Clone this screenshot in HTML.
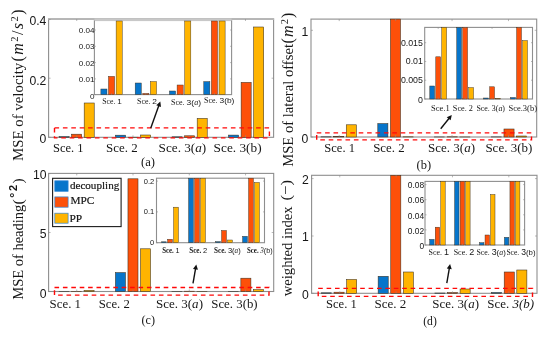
<!DOCTYPE html>
<html><head><meta charset="utf-8"><title>MSE comparison</title>
<style>html,body{margin:0;padding:0;background:#fff}svg{display:block}</style></head>
<body>
<svg width="550" height="337" viewBox="0 0 550 337">
<rect width="550" height="337" fill="#fff"/>
<rect x="48.6" y="19.0" width="225.00" height="118.30" fill="#fff" stroke="#8e8e8e" stroke-width="1.1"/>
<rect x="48.1" y="18.1" width="226.0" height="1.9" fill="#b6b6b6"/>
<rect x="59.07" y="136.60" width="10.04" height="0.70" fill="#0675cb" stroke="#3a3020" stroke-width="0.55"/>
<rect x="71.63" y="134.20" width="10.04" height="3.10" fill="#fd5009" stroke="#3a3020" stroke-width="0.55"/>
<rect x="84.18" y="103.00" width="10.04" height="34.30" fill="#ffb400" stroke="#3a3020" stroke-width="0.55"/>
<rect x="115.57" y="135.20" width="10.04" height="2.10" fill="#0675cb" stroke="#3a3020" stroke-width="0.55"/>
<rect x="128.13" y="137.20" width="10.04" height="0.10" fill="#fd5009" stroke="#3a3020" stroke-width="0.55"/>
<rect x="140.68" y="135.00" width="10.04" height="2.30" fill="#ffb400" stroke="#3a3020" stroke-width="0.55"/>
<rect x="172.07" y="136.80" width="10.04" height="0.50" fill="#0675cb" stroke="#3a3020" stroke-width="0.55"/>
<rect x="184.63" y="135.80" width="10.04" height="1.50" fill="#fd5009" stroke="#3a3020" stroke-width="0.55"/>
<rect x="197.18" y="118.40" width="10.04" height="18.90" fill="#ffb400" stroke="#3a3020" stroke-width="0.55"/>
<rect x="228.57" y="135.10" width="10.04" height="2.20" fill="#0675cb" stroke="#3a3020" stroke-width="0.55"/>
<rect x="241.13" y="82.40" width="10.04" height="54.90" fill="#fd5009" stroke="#3a3020" stroke-width="0.55"/>
<rect x="253.68" y="27.00" width="10.04" height="110.30" fill="#ffb400" stroke="#3a3020" stroke-width="0.55"/>
<line x1="76.73" y1="137.3" x2="76.73" y2="135.3" stroke="#8a8a8a" stroke-width="0.6"/>
<line x1="132.98" y1="137.3" x2="132.98" y2="135.3" stroke="#8a8a8a" stroke-width="0.6"/>
<line x1="189.23" y1="137.3" x2="189.23" y2="135.3" stroke="#8a8a8a" stroke-width="0.6"/>
<line x1="245.48" y1="137.3" x2="245.48" y2="135.3" stroke="#8a8a8a" stroke-width="0.6"/>
<line x1="76.73" y1="19.0" x2="76.73" y2="21.0" stroke="#8a8a8a" stroke-width="0.6"/>
<line x1="132.98" y1="19.0" x2="132.98" y2="21.0" stroke="#8a8a8a" stroke-width="0.6"/>
<line x1="189.23" y1="19.0" x2="189.23" y2="21.0" stroke="#8a8a8a" stroke-width="0.6"/>
<line x1="245.48" y1="19.0" x2="245.48" y2="21.0" stroke="#8a8a8a" stroke-width="0.6"/>
<line x1="48.6" y1="19.5" x2="50.6" y2="19.5" stroke="#8a8a8a" stroke-width="0.6"/>
<line x1="48.6" y1="78.2" x2="50.6" y2="78.2" stroke="#8a8a8a" stroke-width="0.6"/>
<line x1="48.6" y1="137.3" x2="50.6" y2="137.3" stroke="#8a8a8a" stroke-width="0.6"/>
<line x1="271.6" y1="78.2" x2="273.6" y2="78.2" stroke="#8a8a8a" stroke-width="0.6"/>
<rect x="94.4" y="20.5" width="137.20" height="74.10" fill="#fff" stroke="#8e8e8e" stroke-width="1.1"/>
<rect x="94.4" y="18.4" width="137.2" height="2.6" fill="#c8c8c8"/>
<rect x="100.88" y="89.00" width="6.10" height="5.60" fill="#0675cb" stroke="#3a3020" stroke-width="0.45"/>
<rect x="108.50" y="76.40" width="6.10" height="18.20" fill="#fd5009" stroke="#3a3020" stroke-width="0.45"/>
<rect x="116.12" y="21.00" width="6.10" height="73.60" fill="#ffb400" stroke="#3a3020" stroke-width="0.45"/>
<rect x="135.18" y="83.00" width="6.10" height="11.60" fill="#0675cb" stroke="#3a3020" stroke-width="0.45"/>
<rect x="142.80" y="93.40" width="6.10" height="1.20" fill="#fd5009" stroke="#3a3020" stroke-width="0.45"/>
<rect x="150.42" y="81.60" width="6.10" height="13.00" fill="#ffb400" stroke="#3a3020" stroke-width="0.45"/>
<rect x="169.48" y="91.00" width="6.10" height="3.60" fill="#0675cb" stroke="#3a3020" stroke-width="0.45"/>
<rect x="177.10" y="85.00" width="6.10" height="9.60" fill="#fd5009" stroke="#3a3020" stroke-width="0.45"/>
<rect x="184.72" y="21.00" width="6.10" height="73.60" fill="#ffb400" stroke="#3a3020" stroke-width="0.45"/>
<rect x="203.78" y="81.60" width="6.10" height="13.00" fill="#0675cb" stroke="#3a3020" stroke-width="0.45"/>
<rect x="211.40" y="21.00" width="6.10" height="73.60" fill="#fd5009" stroke="#3a3020" stroke-width="0.45"/>
<rect x="219.02" y="21.00" width="6.10" height="73.60" fill="#ffb400" stroke="#3a3020" stroke-width="0.45"/>
<line x1="111.55" y1="94.6" x2="111.55" y2="93.1" stroke="#8a8a8a" stroke-width="0.6"/>
<line x1="145.85" y1="94.6" x2="145.85" y2="93.1" stroke="#8a8a8a" stroke-width="0.6"/>
<line x1="180.15" y1="94.6" x2="180.15" y2="93.1" stroke="#8a8a8a" stroke-width="0.6"/>
<line x1="214.45" y1="94.6" x2="214.45" y2="93.1" stroke="#8a8a8a" stroke-width="0.6"/>
<line x1="94.4" y1="30" x2="95.9" y2="30" stroke="#8a8a8a" stroke-width="0.6"/>
<line x1="94.4" y1="46.3" x2="95.9" y2="46.3" stroke="#8a8a8a" stroke-width="0.6"/>
<line x1="94.4" y1="62.6" x2="95.9" y2="62.6" stroke="#8a8a8a" stroke-width="0.6"/>
<line x1="94.4" y1="78.9" x2="95.9" y2="78.9" stroke="#8a8a8a" stroke-width="0.6"/>
<line x1="94.4" y1="94.6" x2="95.9" y2="94.6" stroke="#8a8a8a" stroke-width="0.6"/>
<line x1="230.1" y1="30" x2="231.6" y2="30" stroke="#8a8a8a" stroke-width="0.6"/>
<line x1="230.1" y1="46.3" x2="231.6" y2="46.3" stroke="#8a8a8a" stroke-width="0.6"/>
<line x1="230.1" y1="62.6" x2="231.6" y2="62.6" stroke="#8a8a8a" stroke-width="0.6"/>
<line x1="230.1" y1="78.9" x2="231.6" y2="78.9" stroke="#8a8a8a" stroke-width="0.6"/>
<text x="94.6" y="32.9" font-size="8.1" text-anchor="end" font-family='"Liberation Sans", sans-serif' fill="#161616" >0.04</text>
<text x="94.6" y="49.199999999999996" font-size="8.1" text-anchor="end" font-family='"Liberation Sans", sans-serif' fill="#161616" >0.03</text>
<text x="94.6" y="65.7" font-size="8.1" text-anchor="end" font-family='"Liberation Sans", sans-serif' fill="#161616" >0.02</text>
<text x="94.6" y="82.10000000000001" font-size="8.1" text-anchor="end" font-family='"Liberation Sans", sans-serif' fill="#161616" >0.01</text>
<text x="94.6" y="98.5" font-size="8.1" text-anchor="end" font-family='"Liberation Sans", sans-serif' fill="#161616" >0</text>
<text x="102.3" y="103.6" font-size="7.6" textLength="19.6" lengthAdjust="spacingAndGlyphs" font-family='"Liberation Serif", serif' fill="#161616" >Sce. <tspan font-family="Liberation Sans, sans-serif" font-size="8">1</tspan></text>
<text x="137" y="103.6" font-size="7.6" textLength="20.0" lengthAdjust="spacingAndGlyphs" font-family='"Liberation Serif", serif' fill="#161616" >Sce. <tspan font-family="Liberation Sans, sans-serif" font-size="8">2</tspan></text>
<text x="171" y="104.8" font-size="7.6" textLength="30.0" lengthAdjust="spacingAndGlyphs" font-family='"Liberation Serif", serif' fill="#161616" >Sce. <tspan font-family="Liberation Sans, sans-serif" font-size="8">3(</tspan><tspan font-style="italic">a</tspan><tspan font-family="Liberation Sans, sans-serif" font-size="8">)</tspan></text>
<text x="204" y="103.4" font-size="7.6" textLength="30.4" lengthAdjust="spacingAndGlyphs" font-family='"Liberation Serif", serif' fill="#161616" >Sce. <tspan font-family="Liberation Sans, sans-serif" font-size="8">3(b)</tspan></text>
<rect x="54.5" y="127.9" width="214.90" height="10.00" fill="none" stroke="#ff0808" stroke-width="1.4" stroke-dasharray="4.6 3.8"/>
<line x1="150.7" y1="128.3" x2="159.29" y2="104.32" stroke="#111" stroke-width="1.4"/>
<polygon points="160.30,101.50 160.97,107.05 156.26,105.36" fill="#111"/>
<text x="46.4" y="24.9" font-size="12.2" text-anchor="end" font-family='"Liberation Sans", sans-serif' fill="#161616" >0.4</text>
<text x="46.4" y="84.7" font-size="12.2" text-anchor="end" font-family='"Liberation Sans", sans-serif' fill="#161616" >0.2</text>
<text x="46.4" y="143" font-size="12.2" text-anchor="end" font-family='"Liberation Sans", sans-serif' fill="#161616" >0</text>
<text x="53" y="151.7" font-size="13.2" textLength="30.6" lengthAdjust="spacingAndGlyphs" font-family='"Liberation Serif", serif' fill="#161616" >Sce. 1</text>
<text x="106" y="151.7" font-size="13.2" textLength="31.6" lengthAdjust="spacingAndGlyphs" font-family='"Liberation Serif", serif' fill="#161616" >Sce. 2</text>
<text x="158.6" y="151.7" font-size="13.2" textLength="47.7" lengthAdjust="spacingAndGlyphs" font-family='"Liberation Serif", serif' fill="#161616" >Sce. 3(<tspan font-style="italic">a</tspan>)</text>
<text x="213.6" y="151.7" font-size="13.2" textLength="48.0" lengthAdjust="spacingAndGlyphs" font-family='"Liberation Serif", serif' fill="#161616" >Sce. 3(b)</text>
<text x="141" y="166" font-size="13.2" textLength="14.0" lengthAdjust="spacingAndGlyphs" font-family='"Liberation Serif", serif' fill="#161616" >(a)</text>
<text transform="translate(23.3,161) rotate(-90)" font-size="15.6" text-anchor="start" textLength="98.2" lengthAdjust="spacingAndGlyphs" font-family='"Liberation Serif", serif' fill="#161616" >MSE of velocity</text>
<text transform="translate(23.3,61.6) rotate(-90)" font-size="16" textLength="52.2" lengthAdjust="spacing" font-family='"Liberation Serif", serif' fill="#161616">(<tspan font-style="italic">m</tspan><tspan font-size="10.5" dy="-5.5">2</tspan><tspan dy="5.5">/</tspan><tspan font-style="italic">s</tspan><tspan font-size="10.5" dy="-5.5">2</tspan><tspan dy="5.5">)</tspan></text>
<rect x="311.0" y="19.1" width="225.70" height="117.90" fill="#fff" stroke="#8e8e8e" stroke-width="1.1"/>
<rect x="321.02" y="136.80" width="10.09" height="0.20" fill="#0675cb" stroke="#3a3020" stroke-width="0.55"/>
<rect x="333.64" y="136.30" width="10.09" height="0.70" fill="#fd5009" stroke="#3a3020" stroke-width="0.55"/>
<rect x="346.26" y="124.80" width="10.09" height="12.20" fill="#ffb400" stroke="#3a3020" stroke-width="0.55"/>
<rect x="377.80" y="123.60" width="10.09" height="13.40" fill="#0675cb" stroke="#3a3020" stroke-width="0.55"/>
<rect x="390.42" y="19.10" width="10.09" height="117.90" fill="#fd5009" stroke="#3a3020" stroke-width="0.55"/>
<rect x="403.03" y="136.80" width="10.09" height="0.20" fill="#ffb400" stroke="#3a3020" stroke-width="0.55"/>
<rect x="434.57" y="136.95" width="10.09" height="0.05" fill="#0675cb" stroke="#3a3020" stroke-width="0.55"/>
<rect x="447.19" y="136.80" width="10.09" height="0.20" fill="#fd5009" stroke="#3a3020" stroke-width="0.55"/>
<rect x="459.81" y="136.95" width="10.09" height="0.05" fill="#ffb400" stroke="#3a3020" stroke-width="0.55"/>
<rect x="491.35" y="136.90" width="10.09" height="0.10" fill="#0675cb" stroke="#3a3020" stroke-width="0.55"/>
<rect x="503.97" y="129.00" width="10.09" height="8.00" fill="#fd5009" stroke="#3a3020" stroke-width="0.55"/>
<rect x="516.58" y="136.00" width="10.09" height="1.00" fill="#ffb400" stroke="#3a3020" stroke-width="0.55"/>
<line x1="339.21" y1="137.0" x2="339.21" y2="135.0" stroke="#8a8a8a" stroke-width="0.6"/>
<line x1="395.64" y1="137.0" x2="395.64" y2="135.0" stroke="#8a8a8a" stroke-width="0.6"/>
<line x1="452.06" y1="137.0" x2="452.06" y2="135.0" stroke="#8a8a8a" stroke-width="0.6"/>
<line x1="508.49" y1="137.0" x2="508.49" y2="135.0" stroke="#8a8a8a" stroke-width="0.6"/>
<line x1="339.21" y1="19.1" x2="339.21" y2="21.1" stroke="#8a8a8a" stroke-width="0.6"/>
<line x1="395.64" y1="19.1" x2="395.64" y2="21.1" stroke="#8a8a8a" stroke-width="0.6"/>
<line x1="452.06" y1="19.1" x2="452.06" y2="21.1" stroke="#8a8a8a" stroke-width="0.6"/>
<line x1="508.49" y1="19.1" x2="508.49" y2="21.1" stroke="#8a8a8a" stroke-width="0.6"/>
<line x1="311.0" y1="30.3" x2="313.0" y2="30.3" stroke="#8a8a8a" stroke-width="0.6"/>
<line x1="311.0" y1="137.0" x2="313.0" y2="137.0" stroke="#8a8a8a" stroke-width="0.6"/>
<line x1="534.7" y1="30.3" x2="536.7" y2="30.3" stroke="#8a8a8a" stroke-width="0.6"/>
<rect x="424.7" y="27.4" width="107.80" height="71.60" fill="#fff" stroke="#8e8e8e" stroke-width="1.1"/>
<rect x="429.79" y="86.00" width="4.79" height="13.00" fill="#0675cb" stroke="#3a3020" stroke-width="0.45"/>
<rect x="435.78" y="56.80" width="4.79" height="42.20" fill="#fd5009" stroke="#3a3020" stroke-width="0.45"/>
<rect x="441.77" y="27.40" width="4.79" height="71.60" fill="#ffb400" stroke="#3a3020" stroke-width="0.45"/>
<rect x="456.74" y="27.40" width="4.79" height="71.60" fill="#0675cb" stroke="#3a3020" stroke-width="0.45"/>
<rect x="462.73" y="27.40" width="4.79" height="71.60" fill="#fd5009" stroke="#3a3020" stroke-width="0.45"/>
<rect x="468.72" y="87.60" width="4.79" height="11.40" fill="#ffb400" stroke="#3a3020" stroke-width="0.45"/>
<rect x="483.69" y="98.00" width="4.79" height="1.00" fill="#0675cb" stroke="#3a3020" stroke-width="0.45"/>
<rect x="489.68" y="86.80" width="4.79" height="12.20" fill="#fd5009" stroke="#3a3020" stroke-width="0.45"/>
<rect x="495.67" y="98.60" width="4.79" height="0.40" fill="#ffb400" stroke="#3a3020" stroke-width="0.45"/>
<rect x="510.64" y="97.50" width="4.79" height="1.50" fill="#0675cb" stroke="#3a3020" stroke-width="0.45"/>
<rect x="516.63" y="27.40" width="4.79" height="71.60" fill="#fd5009" stroke="#3a3020" stroke-width="0.45"/>
<rect x="522.62" y="40.60" width="4.79" height="58.40" fill="#ffb400" stroke="#3a3020" stroke-width="0.45"/>
<line x1="438.18" y1="99.0" x2="438.18" y2="97.5" stroke="#8a8a8a" stroke-width="0.6"/>
<line x1="465.12" y1="99.0" x2="465.12" y2="97.5" stroke="#8a8a8a" stroke-width="0.6"/>
<line x1="492.07" y1="99.0" x2="492.07" y2="97.5" stroke="#8a8a8a" stroke-width="0.6"/>
<line x1="519.02" y1="99.0" x2="519.02" y2="97.5" stroke="#8a8a8a" stroke-width="0.6"/>
<line x1="438.18" y1="27.4" x2="438.18" y2="28.9" stroke="#8a8a8a" stroke-width="0.6"/>
<line x1="465.12" y1="27.4" x2="465.12" y2="28.9" stroke="#8a8a8a" stroke-width="0.6"/>
<line x1="492.07" y1="27.4" x2="492.07" y2="28.9" stroke="#8a8a8a" stroke-width="0.6"/>
<line x1="519.02" y1="27.4" x2="519.02" y2="28.9" stroke="#8a8a8a" stroke-width="0.6"/>
<line x1="424.7" y1="42.7" x2="426.2" y2="42.7" stroke="#8a8a8a" stroke-width="0.6"/>
<line x1="424.7" y1="61.5" x2="426.2" y2="61.5" stroke="#8a8a8a" stroke-width="0.6"/>
<line x1="424.7" y1="80.2" x2="426.2" y2="80.2" stroke="#8a8a8a" stroke-width="0.6"/>
<line x1="424.7" y1="99" x2="426.2" y2="99" stroke="#8a8a8a" stroke-width="0.6"/>
<line x1="531.0" y1="42.7" x2="532.5" y2="42.7" stroke="#8a8a8a" stroke-width="0.6"/>
<line x1="531.0" y1="61.5" x2="532.5" y2="61.5" stroke="#8a8a8a" stroke-width="0.6"/>
<line x1="531.0" y1="80.2" x2="532.5" y2="80.2" stroke="#8a8a8a" stroke-width="0.6"/>
<text x="422.9" y="45.5" font-size="8.8" text-anchor="end" font-family='"Liberation Sans", sans-serif' fill="#161616" >0.015</text>
<text x="422.9" y="64.3" font-size="8.8" text-anchor="end" font-family='"Liberation Sans", sans-serif' fill="#161616" >0.01</text>
<text x="422.9" y="83.1" font-size="8.8" text-anchor="end" font-family='"Liberation Sans", sans-serif' fill="#161616" >0.005</text>
<text x="422.9" y="102.69999999999999" font-size="8.8" text-anchor="end" font-family='"Liberation Sans", sans-serif' fill="#161616" >0</text>
<text x="431.1" y="110.7" font-size="8.5" textLength="18.7" lengthAdjust="spacingAndGlyphs" font-family='"Liberation Serif", serif' fill="#161616" >Sce.1</text>
<text x="452.8" y="110.7" font-size="8.5" textLength="20.2" lengthAdjust="spacingAndGlyphs" font-family='"Liberation Serif", serif' fill="#161616" >Sce. 2</text>
<text x="476.4" y="110.7" font-size="8.5" textLength="28.6" lengthAdjust="spacingAndGlyphs" font-family='"Liberation Serif", serif' fill="#161616" >Sce. 3(<tspan font-style="italic">a</tspan>)</text>
<text x="508.5" y="110.7" font-size="8.5" textLength="28.5" lengthAdjust="spacingAndGlyphs" font-family='"Liberation Serif", serif' fill="#161616" >Sce.3(b)</text>
<rect x="316.7" y="132.9" width="214.80" height="7.00" fill="none" stroke="#ff0808" stroke-width="1.4" stroke-dasharray="4.6 3.8"/>
<line x1="440.7" y1="128.8" x2="449.93" y2="117.24" stroke="#111" stroke-width="1.4"/>
<polygon points="451.80,114.90 450.63,120.37 446.73,117.25" fill="#111"/>
<text x="308.4" y="35.8" font-size="12.2" text-anchor="end" font-family='"Liberation Sans", sans-serif' fill="#161616" >1</text>
<text x="308.4" y="143" font-size="12.2" text-anchor="end" font-family='"Liberation Sans", sans-serif' fill="#161616" >0</text>
<text x="324.3" y="151.7" font-size="13.2" textLength="30.7" lengthAdjust="spacingAndGlyphs" font-family='"Liberation Serif", serif' fill="#161616" >Sce. 1</text>
<text x="373.2" y="151.7" font-size="13.2" textLength="31.5" lengthAdjust="spacingAndGlyphs" font-family='"Liberation Serif", serif' fill="#161616" >Sce. 2</text>
<text x="428" y="151.7" font-size="13.2" textLength="47.0" lengthAdjust="spacingAndGlyphs" font-family='"Liberation Serif", serif' fill="#161616" >Sce. 3(<tspan font-style="italic">a</tspan>)</text>
<text x="485.4" y="151.7" font-size="13.2" textLength="46.9" lengthAdjust="spacingAndGlyphs" font-family='"Liberation Serif", serif' fill="#161616" >Sce. 3(b)</text>
<text x="416.6" y="168.7" font-size="13.2" textLength="14.6" lengthAdjust="spacingAndGlyphs" font-family='"Liberation Serif", serif' fill="#161616" >(b)</text>
<text transform="translate(293.2,166.8) rotate(-90)" font-size="15.6" text-anchor="start" textLength="122.8" lengthAdjust="spacingAndGlyphs" font-family='"Liberation Serif", serif' fill="#161616" >MSE of lateral offset</text>
<text transform="translate(293.2,43.6) rotate(-90)" font-size="16" textLength="31" lengthAdjust="spacing" font-family='"Liberation Serif", serif' fill="#161616">(<tspan font-style="italic">m</tspan><tspan font-size="10.5" dy="-5.5">2</tspan><tspan dy="5.5">)</tspan></text>
<rect x="48.6" y="173.4" width="225.10" height="118.10" fill="#fff" stroke="#8e8e8e" stroke-width="1.1"/>
<rect x="58.96" y="291.40" width="10.04" height="0.10" fill="#0675cb" stroke="#3a3020" stroke-width="0.55"/>
<rect x="71.51" y="291.30" width="10.04" height="0.20" fill="#fd5009" stroke="#3a3020" stroke-width="0.55"/>
<rect x="84.05" y="290.40" width="10.04" height="1.10" fill="#ffb400" stroke="#3a3020" stroke-width="0.55"/>
<rect x="115.41" y="272.60" width="10.04" height="18.90" fill="#0675cb" stroke="#3a3020" stroke-width="0.55"/>
<rect x="127.96" y="178.80" width="10.04" height="112.70" fill="#fd5009" stroke="#3a3020" stroke-width="0.55"/>
<rect x="140.50" y="248.80" width="10.04" height="42.70" fill="#ffb400" stroke="#3a3020" stroke-width="0.55"/>
<rect x="171.86" y="291.40" width="10.04" height="0.10" fill="#0675cb" stroke="#3a3020" stroke-width="0.55"/>
<rect x="184.41" y="291.20" width="10.04" height="0.30" fill="#fd5009" stroke="#3a3020" stroke-width="0.55"/>
<rect x="196.95" y="291.40" width="10.04" height="0.10" fill="#ffb400" stroke="#3a3020" stroke-width="0.55"/>
<rect x="228.31" y="291.40" width="10.04" height="0.10" fill="#0675cb" stroke="#3a3020" stroke-width="0.55"/>
<rect x="240.86" y="278.20" width="10.04" height="13.30" fill="#fd5009" stroke="#3a3020" stroke-width="0.55"/>
<rect x="253.40" y="289.60" width="10.04" height="1.90" fill="#ffb400" stroke="#3a3020" stroke-width="0.55"/>
<line x1="76.74" y1="291.5" x2="76.74" y2="289.5" stroke="#8a8a8a" stroke-width="0.6"/>
<line x1="133.01" y1="291.5" x2="133.01" y2="289.5" stroke="#8a8a8a" stroke-width="0.6"/>
<line x1="189.29" y1="291.5" x2="189.29" y2="289.5" stroke="#8a8a8a" stroke-width="0.6"/>
<line x1="245.56" y1="291.5" x2="245.56" y2="289.5" stroke="#8a8a8a" stroke-width="0.6"/>
<line x1="76.74" y1="173.4" x2="76.74" y2="175.4" stroke="#8a8a8a" stroke-width="0.6"/>
<line x1="133.01" y1="173.4" x2="133.01" y2="175.4" stroke="#8a8a8a" stroke-width="0.6"/>
<line x1="189.29" y1="173.4" x2="189.29" y2="175.4" stroke="#8a8a8a" stroke-width="0.6"/>
<line x1="245.56" y1="173.4" x2="245.56" y2="175.4" stroke="#8a8a8a" stroke-width="0.6"/>
<line x1="48.6" y1="173.6" x2="50.6" y2="173.6" stroke="#8a8a8a" stroke-width="0.6"/>
<line x1="48.6" y1="232.5" x2="50.6" y2="232.5" stroke="#8a8a8a" stroke-width="0.6"/>
<line x1="48.6" y1="291.5" x2="50.6" y2="291.5" stroke="#8a8a8a" stroke-width="0.6"/>
<line x1="271.7" y1="232.5" x2="273.7" y2="232.5" stroke="#8a8a8a" stroke-width="0.6"/>
<rect x="52.6" y="178.3" width="68.50" height="48.30" fill="#fff" stroke="#1c1c1c" stroke-width="1.1"/>
<rect x="54.8" y="180.8" width="13.3" height="10.5" fill="#0675cb" stroke="#2f86d6" stroke-width="0.7"/>
<rect x="54.8" y="196.9" width="13.3" height="10.3" fill="#fd5009" stroke="#2f86d6" stroke-width="0.7"/>
<rect x="54.8" y="213.2" width="13.3" height="10.0" fill="#ffb400" stroke="#2f86d6" stroke-width="0.7"/>
<text x="69.9" y="188.7" font-size="11.2" textLength="49.4" lengthAdjust="spacingAndGlyphs" font-family='"Liberation Serif", serif' fill="#161616" stroke="#161616" stroke-width="0.2">decoupling</text>
<text x="70.6" y="204.2" font-size="11.2" textLength="23.8" lengthAdjust="spacingAndGlyphs" font-family='"Liberation Serif", serif' fill="#161616" stroke="#161616" stroke-width="0.2">MPC</text>
<text x="69.4" y="222.0" font-size="11.2" textLength="12.6" lengthAdjust="spacingAndGlyphs" font-family='"Liberation Serif", serif' fill="#161616" stroke="#161616" stroke-width="0.2">PP</text>
<rect x="156.5" y="178.2" width="108.00" height="64.50" fill="#fff" stroke="#8e8e8e" stroke-width="1.1"/>
<rect x="161.60" y="241.80" width="4.80" height="0.90" fill="#0675cb" stroke="#3a3020" stroke-width="0.45"/>
<rect x="167.60" y="239.30" width="4.80" height="3.40" fill="#fd5009" stroke="#3a3020" stroke-width="0.45"/>
<rect x="173.60" y="207.20" width="4.80" height="35.50" fill="#ffb400" stroke="#3a3020" stroke-width="0.45"/>
<rect x="188.60" y="178.20" width="4.80" height="64.50" fill="#0675cb" stroke="#3a3020" stroke-width="0.45"/>
<rect x="194.60" y="178.20" width="4.80" height="64.50" fill="#fd5009" stroke="#3a3020" stroke-width="0.45"/>
<rect x="200.60" y="178.20" width="4.80" height="64.50" fill="#ffb400" stroke="#3a3020" stroke-width="0.45"/>
<rect x="215.60" y="241.60" width="4.80" height="1.10" fill="#0675cb" stroke="#3a3020" stroke-width="0.45"/>
<rect x="221.60" y="230.50" width="4.80" height="12.20" fill="#fd5009" stroke="#3a3020" stroke-width="0.45"/>
<rect x="227.60" y="240.00" width="4.80" height="2.70" fill="#ffb400" stroke="#3a3020" stroke-width="0.45"/>
<rect x="242.60" y="236.30" width="4.80" height="6.40" fill="#0675cb" stroke="#3a3020" stroke-width="0.45"/>
<rect x="248.60" y="178.20" width="4.80" height="64.50" fill="#fd5009" stroke="#3a3020" stroke-width="0.45"/>
<rect x="254.60" y="182.50" width="4.80" height="60.20" fill="#ffb400" stroke="#3a3020" stroke-width="0.45"/>
<line x1="170.00" y1="242.7" x2="170.00" y2="241.2" stroke="#8a8a8a" stroke-width="0.6"/>
<line x1="197.00" y1="242.7" x2="197.00" y2="241.2" stroke="#8a8a8a" stroke-width="0.6"/>
<line x1="224.00" y1="242.7" x2="224.00" y2="241.2" stroke="#8a8a8a" stroke-width="0.6"/>
<line x1="251.00" y1="242.7" x2="251.00" y2="241.2" stroke="#8a8a8a" stroke-width="0.6"/>
<line x1="156.5" y1="181.1" x2="158.0" y2="181.1" stroke="#8a8a8a" stroke-width="0.6"/>
<line x1="156.5" y1="211.9" x2="158.0" y2="211.9" stroke="#8a8a8a" stroke-width="0.6"/>
<line x1="156.5" y1="242.7" x2="158.0" y2="242.7" stroke="#8a8a8a" stroke-width="0.6"/>
<line x1="263.0" y1="181.1" x2="264.5" y2="181.1" stroke="#8a8a8a" stroke-width="0.6"/>
<line x1="263.0" y1="211.9" x2="264.5" y2="211.9" stroke="#8a8a8a" stroke-width="0.6"/>
<text x="154.2" y="183.5" font-size="7.5" text-anchor="end" font-family='"Liberation Sans", sans-serif' fill="#161616" >0.2</text>
<text x="154.2" y="214.10000000000002" font-size="7.5" text-anchor="end" font-family='"Liberation Sans", sans-serif' fill="#161616" >0.1</text>
<text x="154.2" y="245.3" font-size="7.5" text-anchor="end" font-family='"Liberation Sans", sans-serif' fill="#161616" >0</text>
<text x="162.2" y="252.7" font-size="7.4" textLength="17.4" lengthAdjust="spacingAndGlyphs" font-family='"Liberation Serif", serif' fill="#161616" font-weight="bold">Sce. <tspan font-family="Liberation Sans, sans-serif" font-weight="normal" font-size="7.8">1</tspan></text>
<text x="189.2" y="252.7" font-size="7.4" textLength="18.1" lengthAdjust="spacingAndGlyphs" font-family='"Liberation Serif", serif' fill="#161616" font-weight="bold">Sce. <tspan font-family="Liberation Sans, sans-serif" font-weight="normal" font-size="7.8">2</tspan></text>
<text x="214" y="252.7" font-size="7.4" textLength="26.7" lengthAdjust="spacingAndGlyphs" font-family='"Liberation Serif", serif' fill="#161616" font-weight="bold">Sce. <tspan font-family="Liberation Sans, sans-serif" font-weight="normal" font-size="7.8">3(</tspan><tspan font-style="italic" font-weight="normal">a</tspan><tspan font-family="Liberation Sans, sans-serif" font-weight="normal" font-size="7.8">)</tspan></text>
<text x="247" y="252.7" font-size="7.4" textLength="25.7" lengthAdjust="spacingAndGlyphs" font-family='"Liberation Serif", serif' fill="#161616" font-weight="bold">Sce. <tspan font-style="italic" font-weight="normal" font-size="7.6">3</tspan><tspan font-family="Liberation Sans, sans-serif" font-weight="normal" font-size="7.8">(b)</tspan></text>
<rect x="54.5" y="287.5" width="214.50" height="7.60" fill="none" stroke="#ff0808" stroke-width="1.4" stroke-dasharray="4.6 3.8"/>
<line x1="193" y1="283.3" x2="195.78" y2="267.36" stroke="#111" stroke-width="1.4"/>
<polygon points="196.30,264.40 197.90,269.76 192.98,268.90" fill="#111"/>
<text x="46.5" y="179.2" font-size="12.2" text-anchor="end" font-family='"Liberation Sans", sans-serif' fill="#161616" >10</text>
<text x="46.5" y="238.1" font-size="12.2" text-anchor="end" font-family='"Liberation Sans", sans-serif' fill="#161616" >5</text>
<text x="46.5" y="297.6" font-size="12.2" text-anchor="end" font-family='"Liberation Sans", sans-serif' fill="#161616" >0</text>
<text x="49.6" y="308.3" font-size="13.2" textLength="31.4" lengthAdjust="spacingAndGlyphs" font-family='"Liberation Serif", serif' fill="#161616" >Sce. 1</text>
<text x="98.7" y="308.3" font-size="13.2" textLength="31.1" lengthAdjust="spacingAndGlyphs" font-family='"Liberation Serif", serif' fill="#161616" >Sce. 2</text>
<text x="155.9" y="308.3" font-size="13.2" textLength="47.1" lengthAdjust="spacingAndGlyphs" font-family='"Liberation Serif", serif' fill="#161616" >Sce. 3(<tspan font-style="italic">a</tspan>)</text>
<text x="211.3" y="308.3" font-size="13.2" textLength="46.3" lengthAdjust="spacingAndGlyphs" font-family='"Liberation Serif", serif' fill="#161616" >Sce. 3(b)</text>
<text x="141.5" y="324" font-size="13.2" textLength="13.5" lengthAdjust="spacingAndGlyphs" font-family='"Liberation Serif", serif' fill="#161616" >(c)</text>
<text transform="translate(23.3,299.7) rotate(-90)" font-size="15.6" text-anchor="start" textLength="95" lengthAdjust="spacingAndGlyphs" font-family='"Liberation Serif", serif' fill="#161616" >MSE of heading</text>
<text transform="translate(23.3,204.4) rotate(-90)" font-size="15.5" textLength="26.2" lengthAdjust="spacing" font-family='"Liberation Serif", serif' fill="#161616">(<tspan font-family="Liberation Sans, sans-serif" font-weight="bold" font-size="12.5" dy="-4.6">°</tspan><tspan font-family="Liberation Sans, sans-serif" font-weight="bold" font-size="11" dy="-1.4">2</tspan><tspan dy="6">)</tspan></text>
<rect x="311.6" y="175.3" width="225.40" height="118.00" fill="#fff" stroke="#8e8e8e" stroke-width="1.1"/>
<rect x="321.41" y="292.80" width="10.08" height="0.50" fill="#0675cb" stroke="#3a3020" stroke-width="0.55"/>
<rect x="334.02" y="292.20" width="10.08" height="1.10" fill="#fd5009" stroke="#3a3020" stroke-width="0.55"/>
<rect x="346.63" y="279.50" width="10.08" height="13.80" fill="#ffb400" stroke="#3a3020" stroke-width="0.55"/>
<rect x="378.14" y="276.30" width="10.08" height="17.00" fill="#0675cb" stroke="#3a3020" stroke-width="0.55"/>
<rect x="390.75" y="175.30" width="10.08" height="118.00" fill="#fd5009" stroke="#3a3020" stroke-width="0.55"/>
<rect x="403.35" y="272.00" width="10.08" height="21.30" fill="#ffb400" stroke="#3a3020" stroke-width="0.55"/>
<rect x="434.86" y="293.00" width="10.08" height="0.30" fill="#0675cb" stroke="#3a3020" stroke-width="0.55"/>
<rect x="447.47" y="292.60" width="10.08" height="0.70" fill="#fd5009" stroke="#3a3020" stroke-width="0.55"/>
<rect x="460.08" y="289.00" width="10.08" height="4.30" fill="#ffb400" stroke="#3a3020" stroke-width="0.55"/>
<rect x="491.59" y="292.50" width="10.08" height="0.80" fill="#0675cb" stroke="#3a3020" stroke-width="0.55"/>
<rect x="504.20" y="272.00" width="10.08" height="21.30" fill="#fd5009" stroke="#3a3020" stroke-width="0.55"/>
<rect x="516.80" y="270.00" width="10.08" height="23.30" fill="#ffb400" stroke="#3a3020" stroke-width="0.55"/>
<line x1="339.78" y1="293.3" x2="339.78" y2="291.3" stroke="#8a8a8a" stroke-width="0.6"/>
<line x1="396.12" y1="293.3" x2="396.12" y2="291.3" stroke="#8a8a8a" stroke-width="0.6"/>
<line x1="452.48" y1="293.3" x2="452.48" y2="291.3" stroke="#8a8a8a" stroke-width="0.6"/>
<line x1="508.82" y1="293.3" x2="508.82" y2="291.3" stroke="#8a8a8a" stroke-width="0.6"/>
<line x1="339.78" y1="175.3" x2="339.78" y2="177.3" stroke="#8a8a8a" stroke-width="0.6"/>
<line x1="396.12" y1="175.3" x2="396.12" y2="177.3" stroke="#8a8a8a" stroke-width="0.6"/>
<line x1="452.48" y1="175.3" x2="452.48" y2="177.3" stroke="#8a8a8a" stroke-width="0.6"/>
<line x1="508.82" y1="175.3" x2="508.82" y2="177.3" stroke="#8a8a8a" stroke-width="0.6"/>
<line x1="311.6" y1="178.6" x2="313.6" y2="178.6" stroke="#8a8a8a" stroke-width="0.6"/>
<line x1="311.6" y1="236" x2="313.6" y2="236" stroke="#8a8a8a" stroke-width="0.6"/>
<line x1="311.6" y1="293.3" x2="313.6" y2="293.3" stroke="#8a8a8a" stroke-width="0.6"/>
<line x1="535.0" y1="178.6" x2="537.0" y2="178.6" stroke="#8a8a8a" stroke-width="0.6"/>
<line x1="535.0" y1="236" x2="537.0" y2="236" stroke="#8a8a8a" stroke-width="0.6"/>
<rect x="425.0" y="181.4" width="99.60" height="63.60" fill="#fff" stroke="#8e8e8e" stroke-width="1.1"/>
<rect x="429.70" y="239.40" width="4.43" height="5.60" fill="#0675cb" stroke="#3a3020" stroke-width="0.45"/>
<rect x="435.24" y="227.20" width="4.43" height="17.80" fill="#fd5009" stroke="#3a3020" stroke-width="0.45"/>
<rect x="440.77" y="181.40" width="4.43" height="63.60" fill="#ffb400" stroke="#3a3020" stroke-width="0.45"/>
<rect x="454.60" y="181.40" width="4.43" height="63.60" fill="#0675cb" stroke="#3a3020" stroke-width="0.45"/>
<rect x="460.14" y="181.40" width="4.43" height="63.60" fill="#fd5009" stroke="#3a3020" stroke-width="0.45"/>
<rect x="465.67" y="181.40" width="4.43" height="63.60" fill="#ffb400" stroke="#3a3020" stroke-width="0.45"/>
<rect x="479.50" y="242.70" width="4.43" height="2.30" fill="#0675cb" stroke="#3a3020" stroke-width="0.45"/>
<rect x="485.04" y="235.00" width="4.43" height="10.00" fill="#fd5009" stroke="#3a3020" stroke-width="0.45"/>
<rect x="490.57" y="194.50" width="4.43" height="50.50" fill="#ffb400" stroke="#3a3020" stroke-width="0.45"/>
<rect x="504.40" y="237.30" width="4.43" height="7.70" fill="#0675cb" stroke="#3a3020" stroke-width="0.45"/>
<rect x="509.94" y="181.40" width="4.43" height="63.60" fill="#fd5009" stroke="#3a3020" stroke-width="0.45"/>
<rect x="515.47" y="181.40" width="4.43" height="63.60" fill="#ffb400" stroke="#3a3020" stroke-width="0.45"/>
<line x1="437.45" y1="245.0" x2="437.45" y2="243.5" stroke="#8a8a8a" stroke-width="0.6"/>
<line x1="462.35" y1="245.0" x2="462.35" y2="243.5" stroke="#8a8a8a" stroke-width="0.6"/>
<line x1="487.25" y1="245.0" x2="487.25" y2="243.5" stroke="#8a8a8a" stroke-width="0.6"/>
<line x1="512.15" y1="245.0" x2="512.15" y2="243.5" stroke="#8a8a8a" stroke-width="0.6"/>
<line x1="425.0" y1="184.6" x2="426.5" y2="184.6" stroke="#8a8a8a" stroke-width="0.6"/>
<line x1="425.0" y1="199.7" x2="426.5" y2="199.7" stroke="#8a8a8a" stroke-width="0.6"/>
<line x1="425.0" y1="214.8" x2="426.5" y2="214.8" stroke="#8a8a8a" stroke-width="0.6"/>
<line x1="425.0" y1="229.9" x2="426.5" y2="229.9" stroke="#8a8a8a" stroke-width="0.6"/>
<line x1="425.0" y1="245" x2="426.5" y2="245" stroke="#8a8a8a" stroke-width="0.6"/>
<line x1="523.1" y1="184.6" x2="524.6" y2="184.6" stroke="#8a8a8a" stroke-width="0.6"/>
<line x1="523.1" y1="199.7" x2="524.6" y2="199.7" stroke="#8a8a8a" stroke-width="0.6"/>
<line x1="523.1" y1="214.8" x2="524.6" y2="214.8" stroke="#8a8a8a" stroke-width="0.6"/>
<line x1="523.1" y1="229.9" x2="524.6" y2="229.9" stroke="#8a8a8a" stroke-width="0.6"/>
<text x="424.1" y="187.6" font-size="8.4" text-anchor="end" font-family='"Liberation Sans", sans-serif' fill="#161616" >0.08</text>
<text x="424.1" y="203.0" font-size="8.4" text-anchor="end" font-family='"Liberation Sans", sans-serif' fill="#161616" >0.06</text>
<text x="424.1" y="218.6" font-size="8.4" text-anchor="end" font-family='"Liberation Sans", sans-serif' fill="#161616" >0.04</text>
<text x="424.1" y="233.9" font-size="8.4" text-anchor="end" font-family='"Liberation Sans", sans-serif' fill="#161616" >0.02</text>
<text x="424.1" y="249.3" font-size="8.4" text-anchor="end" font-family='"Liberation Sans", sans-serif' fill="#161616" >0</text>
<text x="428.6" y="254.6" font-size="7.4" textLength="20.4" lengthAdjust="spacingAndGlyphs" font-family='"Liberation Serif", serif' fill="#161616" >Sce. <tspan font-family="Liberation Sans, sans-serif" font-size="8.4">1</tspan></text>
<text x="453.7" y="254.6" font-size="7.4" textLength="20.5" lengthAdjust="spacingAndGlyphs" font-family='"Liberation Serif", serif' fill="#161616" >Sce. <tspan font-family="Liberation Sans, sans-serif" font-size="8.4">2</tspan></text>
<text x="476.4" y="254.6" font-size="7.4" textLength="29.4" lengthAdjust="spacingAndGlyphs" font-family='"Liberation Serif", serif' fill="#161616" >Sce. <tspan font-family="Liberation Sans, sans-serif" font-size="8.4">3</tspan><tspan font-family="Liberation Sans, sans-serif" font-size="7.4">(</tspan><tspan font-style="italic">a</tspan><tspan font-family="Liberation Sans, sans-serif" font-size="7.4">)</tspan></text>
<text x="506.4" y="254.6" font-size="7.4" textLength="29.1" lengthAdjust="spacingAndGlyphs" font-family='"Liberation Serif", serif' fill="#161616" >Sce. <tspan font-family="Liberation Sans, sans-serif" font-size="8.4">3</tspan><tspan font-family="Liberation Sans, sans-serif" font-size="7.6">(b)</tspan></text>
<rect x="318.2" y="288.4" width="214.30" height="8.00" fill="none" stroke="#ff0808" stroke-width="1.4" stroke-dasharray="4.6 3.8"/>
<line x1="446.8" y1="283.2" x2="449.59" y2="266.96" stroke="#111" stroke-width="1.4"/>
<polygon points="450.10,264.00 451.72,269.35 446.79,268.50" fill="#111"/>
<text x="308.8" y="184.1" font-size="12.2" text-anchor="end" font-family='"Liberation Sans", sans-serif' fill="#161616" >2</text>
<text x="308.8" y="241.3" font-size="12.2" text-anchor="end" font-family='"Liberation Sans", sans-serif' fill="#161616" >1</text>
<text x="308.8" y="299.2" font-size="12.2" text-anchor="end" font-family='"Liberation Sans", sans-serif' fill="#161616" >0</text>
<text x="326" y="308.3" font-size="13.2" textLength="30.8" lengthAdjust="spacingAndGlyphs" font-family='"Liberation Serif", serif' fill="#161616" >Sce. 1</text>
<text x="374.5" y="308.3" font-size="13.2" textLength="31.9" lengthAdjust="spacingAndGlyphs" font-family='"Liberation Serif", serif' fill="#161616" >Sce. 2</text>
<text x="432.2" y="308.3" font-size="13.2" textLength="46.8" lengthAdjust="spacingAndGlyphs" font-family='"Liberation Serif", serif' fill="#161616" >Sce. 3(<tspan font-style="italic">a</tspan>)</text>
<text x="487.3" y="308.3" font-size="13.2" textLength="46.9" lengthAdjust="spacingAndGlyphs" font-family='"Liberation Serif", serif' fill="#161616" >Sce. <tspan font-style="italic">3(b)</tspan></text>
<text x="423.2" y="325" font-size="13.2" textLength="13.6" lengthAdjust="spacingAndGlyphs" font-family='"Liberation Serif", serif' fill="#161616" >(d)</text>
<text transform="translate(292.4,296.3) rotate(-90)" font-size="15.6" text-anchor="start" textLength="90" lengthAdjust="spacingAndGlyphs" font-family='"Liberation Serif", serif' fill="#161616" >weighted index</text>
<text transform="translate(290.8,200.4) rotate(-90)" font-size="15.6" text-anchor="start" textLength="20.6" lengthAdjust="spacingAndGlyphs" font-family='"Liberation Serif", serif' fill="#161616" >(−)</text>
</svg>
</body></html>
